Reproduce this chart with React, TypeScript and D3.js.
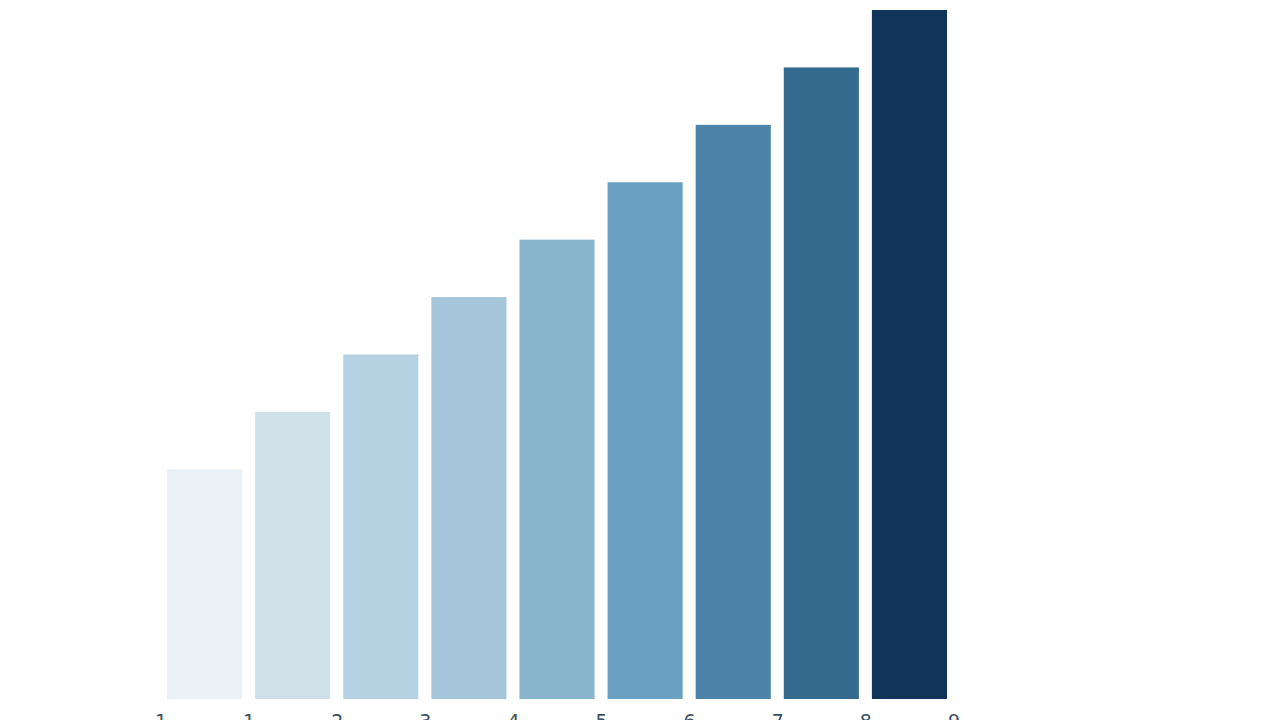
import React from 'react';
import * as d3 from 'd3';

const binLabels = ['1', '1', '2', '3', '4', '5', '6', '7', '8', '9'];
const values = [4, 5, 6, 7, 8, 9, 10, 11, 12];
const colors = ['#ebf2f7', '#cfe0e8', '#b4d2e2', '#a5c6da', '#8ab5cf', '#6aa1c3', '#4d83a8', '#336a8e', '#11355a'];

const width = 1280;
const height = 720;

export default function App() {
  const x = d3.scaleLinear().domain([0, values.length]).range([161, 954]);
  const y = d3.scaleLinear().domain([0, 12]).range([699, 10]);

  return (
    <svg
      width={width}
      height={height}
      style={{ position: 'absolute', left: 0, top: 0, background: '#fff' }}
    >
      {values.map((v, i) => (
        <rect
          key={i}
          x={x(i) + 6}
          y={y(v)}
          width={x(i + 1) - x(i) - 13}
          height={y(0) - y(v)}
          fill={colors[i]}
        />
      ))}
      {binLabels.map((t, i) => (
        <text
          key={i}
          x={x(i)}
          y={728}
          textAnchor="middle"
          fontFamily="DejaVu Sans, sans-serif"
          fontSize={19}
          fill="#3e5163"
        >
          {t}
        </text>
      ))}
    </svg>
  );
}
